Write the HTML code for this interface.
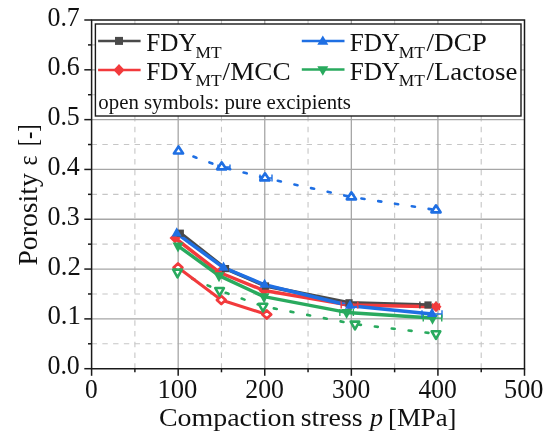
<!DOCTYPE html>
<html><head><meta charset="utf-8"><style>
html,body{margin:0;padding:0;background:#fff;}
svg{display:block;}
svg{will-change:transform;}
</style></head><body>
<svg width="550" height="445" viewBox="0 0 550 445">
<rect x="0" y="0" width="550" height="445" fill="#fff"/>
<line x1="134.89" y1="368.70" x2="134.89" y2="20.00" stroke="#c6c6c6" stroke-width="1.1" stroke-dasharray="5.4 5.35"/>
<line x1="221.47" y1="368.70" x2="221.47" y2="20.00" stroke="#c6c6c6" stroke-width="1.1" stroke-dasharray="5.4 5.35"/>
<line x1="308.05" y1="368.70" x2="308.05" y2="20.00" stroke="#c6c6c6" stroke-width="1.1" stroke-dasharray="5.4 5.35"/>
<line x1="394.63" y1="368.70" x2="394.63" y2="20.00" stroke="#c6c6c6" stroke-width="1.1" stroke-dasharray="5.4 5.35"/>
<line x1="481.21" y1="368.70" x2="481.21" y2="20.00" stroke="#c6c6c6" stroke-width="1.1" stroke-dasharray="5.4 5.35"/>
<line x1="91.60" y1="343.79" x2="524.50" y2="343.79" stroke="#c6c6c6" stroke-width="1.1" stroke-dasharray="5.4 5.35"/>
<line x1="91.60" y1="293.98" x2="524.50" y2="293.98" stroke="#c6c6c6" stroke-width="1.1" stroke-dasharray="5.4 5.35"/>
<line x1="91.60" y1="244.16" x2="524.50" y2="244.16" stroke="#c6c6c6" stroke-width="1.1" stroke-dasharray="5.4 5.35"/>
<line x1="91.60" y1="194.35" x2="524.50" y2="194.35" stroke="#c6c6c6" stroke-width="1.1" stroke-dasharray="5.4 5.35"/>
<line x1="91.60" y1="144.54" x2="524.50" y2="144.54" stroke="#c6c6c6" stroke-width="1.1" stroke-dasharray="5.4 5.35"/>
<line x1="91.60" y1="94.72" x2="524.50" y2="94.72" stroke="#c6c6c6" stroke-width="1.1" stroke-dasharray="5.4 5.35"/>
<line x1="91.60" y1="44.91" x2="524.50" y2="44.91" stroke="#c6c6c6" stroke-width="1.1" stroke-dasharray="5.4 5.35"/>
<line x1="178.18" y1="20.00" x2="178.18" y2="368.70" stroke="#a6a6a6" stroke-width="1.3"/>
<line x1="264.76" y1="20.00" x2="264.76" y2="368.70" stroke="#a6a6a6" stroke-width="1.3"/>
<line x1="351.34" y1="20.00" x2="351.34" y2="368.70" stroke="#a6a6a6" stroke-width="1.3"/>
<line x1="437.92" y1="20.00" x2="437.92" y2="368.70" stroke="#a6a6a6" stroke-width="1.3"/>
<line x1="91.60" y1="318.89" x2="524.50" y2="318.89" stroke="#a6a6a6" stroke-width="1.3"/>
<line x1="91.60" y1="269.07" x2="524.50" y2="269.07" stroke="#a6a6a6" stroke-width="1.3"/>
<line x1="91.60" y1="219.26" x2="524.50" y2="219.26" stroke="#a6a6a6" stroke-width="1.3"/>
<line x1="91.60" y1="169.44" x2="524.50" y2="169.44" stroke="#a6a6a6" stroke-width="1.3"/>
<line x1="91.60" y1="119.63" x2="524.50" y2="119.63" stroke="#a6a6a6" stroke-width="1.3"/>
<line x1="91.60" y1="69.81" x2="524.50" y2="69.81" stroke="#a6a6a6" stroke-width="1.3"/>
<rect x="95.4" y="24" width="425.6" height="92" fill="#fff" stroke="#1a1a1a" stroke-width="1.4"/>
<line x1="178.50" y1="151.10" x2="221.70" y2="167.00" stroke="#1f6fe3" stroke-width="2.6" stroke-dasharray="3.2 13.8" stroke-dashoffset="1.10" stroke-linecap="round"/>
<line x1="221.70" y1="167.00" x2="265.00" y2="178.00" stroke="#1f6fe3" stroke-width="2.6" stroke-dasharray="3.2 13.8" stroke-dashoffset="11.40" stroke-linecap="round"/>
<line x1="265.00" y1="178.00" x2="351.40" y2="197.00" stroke="#1f6fe3" stroke-width="2.6" stroke-dasharray="3.2 13.8" stroke-dashoffset="3.90" stroke-linecap="round"/>
<line x1="351.40" y1="197.00" x2="436.00" y2="210.00" stroke="#1f6fe3" stroke-width="2.6" stroke-dasharray="3.2 13.8" stroke-dashoffset="6.90" stroke-linecap="round"/>
<line x1="177.50" y1="272.20" x2="219.60" y2="290.60" stroke="#29aa5e" stroke-width="2.6" stroke-dasharray="3.0 14.0" stroke-dashoffset="1.20" stroke-linecap="round"/>
<line x1="219.60" y1="290.60" x2="263.00" y2="306.30" stroke="#29aa5e" stroke-width="2.6" stroke-dasharray="3.0 14.0" stroke-dashoffset="10.50" stroke-linecap="round"/>
<line x1="263.00" y1="306.30" x2="355.00" y2="324.20" stroke="#29aa5e" stroke-width="2.6" stroke-dasharray="3.0 14.0" stroke-dashoffset="6.00" stroke-linecap="round"/>
<line x1="355.00" y1="324.20" x2="436.00" y2="333.80" stroke="#29aa5e" stroke-width="2.6" stroke-dasharray="3.0 14.0" stroke-dashoffset="14.00" stroke-linecap="round"/>
<polyline points="178.00,267.50 221.30,300.00 266.80,314.50" fill="none" stroke="#f23a3c" stroke-width="3.0" stroke-linejoin="round"/>
<path d="M260.00,178.00 H272.00 M260.00,174.50 V181.50 M272.00,174.50 V181.50" stroke="#1f6fe3" stroke-width="1.4" fill="none"/>
<path d="M218.00,167.00 H230.00 M218.00,164.50 V169.50 M230.00,164.50 V169.50" stroke="#1f6fe3" stroke-width="1.4" fill="none"/>
<polyline points="180.30,233.20 225.50,268.60 265.50,286.00 349.00,302.80 428.00,305.00" fill="none" stroke="#4a4a4a" stroke-width="3.5" stroke-linejoin="round"/>
<polyline points="175.00,238.00 219.50,272.50 264.00,290.50 349.50,305.00 436.00,306.80" fill="none" stroke="#f23a3c" stroke-width="3.5" stroke-linejoin="round"/>
<polyline points="178.00,245.80 219.00,275.70 264.00,296.60 346.60,312.40 432.50,318.10" fill="none" stroke="#29aa5e" stroke-width="3.5" stroke-linejoin="round"/>
<polyline points="176.70,233.40 223.50,267.70 264.60,284.80 350.00,305.80 432.00,314.00" fill="none" stroke="#1f6fe3" stroke-width="3.5" stroke-linejoin="round"/>
<path d="M419.90,305.00 H436.10 M419.90,301.50 V308.50 M436.10,301.50 V308.50" stroke="#4a4a4a" stroke-width="1.4" fill="none"/>
<path d="M432.60,306.80 H439.40 M432.60,303.30 V310.30 M439.40,303.30 V310.30" stroke="#f23a3c" stroke-width="1.4" fill="none"/>
<path d="M422.00,314.00 H442.00 M422.00,310.25 V317.75 M442.00,310.25 V317.75" stroke="#1f6fe3" stroke-width="1.4" fill="none"/>
<path d="M341.20,305.00 H357.80 M341.20,301.50 V308.50 M357.80,301.50 V308.50" stroke="#f23a3c" stroke-width="1.4" fill="none"/>
<polygon points="178.50,146.43 183.10,153.43 173.90,153.43" fill="#fff" stroke="#1f6fe3" stroke-width="2.6" stroke-linejoin="round"/>
<polygon points="221.70,162.33 226.30,169.33 217.10,169.33" fill="#fff" stroke="#1f6fe3" stroke-width="2.6" stroke-linejoin="round"/>
<polygon points="265.00,173.33 269.60,180.33 260.40,180.33" fill="#fff" stroke="#1f6fe3" stroke-width="2.6" stroke-linejoin="round"/>
<polygon points="351.40,192.33 356.00,199.33 346.80,199.33" fill="#fff" stroke="#1f6fe3" stroke-width="2.6" stroke-linejoin="round"/>
<polygon points="436.00,205.33 440.60,212.33 431.40,212.33" fill="#fff" stroke="#1f6fe3" stroke-width="2.6" stroke-linejoin="round"/>
<polygon points="178.00,263.40 182.40,267.50 178.00,271.60 173.60,267.50" fill="#fff" stroke="#f23a3c" stroke-width="2.7" stroke-linejoin="round"/>
<polygon points="221.30,295.90 225.70,300.00 221.30,304.10 216.90,300.00" fill="#fff" stroke="#f23a3c" stroke-width="2.7" stroke-linejoin="round"/>
<polygon points="266.80,310.40 271.20,314.50 266.80,318.60 262.40,314.50" fill="#fff" stroke="#f23a3c" stroke-width="2.7" stroke-linejoin="round"/>
<polygon points="177.50,277.27 181.80,269.67 173.20,269.67" fill="#fff" stroke="#29aa5e" stroke-width="2.6" stroke-linejoin="round"/>
<polygon points="219.60,295.67 223.90,288.07 215.30,288.07" fill="#fff" stroke="#29aa5e" stroke-width="2.6" stroke-linejoin="round"/>
<polygon points="263.00,311.37 267.30,303.77 258.70,303.77" fill="#fff" stroke="#29aa5e" stroke-width="2.6" stroke-linejoin="round"/>
<polygon points="355.00,329.27 359.30,321.67 350.70,321.67" fill="#fff" stroke="#29aa5e" stroke-width="2.6" stroke-linejoin="round"/>
<polygon points="436.00,338.87 440.30,331.27 431.70,331.27" fill="#fff" stroke="#29aa5e" stroke-width="2.6" stroke-linejoin="round"/>
<polygon points="175.00,232.50 180.50,238.00 175.00,243.50 169.50,238.00" fill="#f23a3c"/>
<polygon points="219.50,267.00 225.00,272.50 219.50,278.00 214.00,272.50" fill="#f23a3c"/>
<polygon points="264.00,285.00 269.50,290.50 264.00,296.00 258.50,290.50" fill="#f23a3c"/>
<polygon points="349.50,299.50 355.00,305.00 349.50,310.50 344.00,305.00" fill="#f23a3c"/>
<polygon points="436.00,301.30 441.50,306.80 436.00,312.30 430.50,306.80" fill="#f23a3c"/>
<rect x="176.70" y="229.60" width="7.20" height="7.20" fill="#4a4a4a"/>
<rect x="221.90" y="265.00" width="7.20" height="7.20" fill="#4a4a4a"/>
<rect x="261.90" y="282.40" width="7.20" height="7.20" fill="#4a4a4a"/>
<rect x="345.40" y="299.20" width="7.20" height="7.20" fill="#4a4a4a"/>
<rect x="424.40" y="301.40" width="7.20" height="7.20" fill="#4a4a4a"/>
<polygon points="178.00,252.47 183.50,242.47 172.50,242.47" fill="#29aa5e"/>
<polygon points="219.00,282.37 224.50,272.37 213.50,272.37" fill="#29aa5e"/>
<polygon points="264.00,303.27 269.50,293.27 258.50,293.27" fill="#29aa5e"/>
<polygon points="346.60,319.07 352.10,309.07 341.10,309.07" fill="#29aa5e"/>
<polygon points="432.50,324.77 438.00,314.77 427.00,314.77" fill="#29aa5e"/>
<path d="M339.85,312.40 H353.35 M339.85,308.90 V315.90 M353.35,308.90 V315.90" stroke="#29aa5e" stroke-width="1.4" fill="none"/>
<path d="M423.25,318.10 H441.75 M423.25,314.60 V321.60 M441.75,314.60 V321.60" stroke="#29aa5e" stroke-width="1.4" fill="none"/>
<polygon points="176.70,227.27 181.80,236.47 171.60,236.47" fill="#1f6fe3"/>
<polygon points="223.50,261.57 228.60,270.77 218.40,270.77" fill="#1f6fe3"/>
<polygon points="264.60,278.67 269.70,287.87 259.50,287.87" fill="#1f6fe3"/>
<polygon points="350.00,299.67 355.10,308.87 344.90,308.87" fill="#1f6fe3"/>
<polygon points="432.00,307.87 437.10,317.07 426.90,317.07" fill="#1f6fe3"/>
<path d="M91.60,20.00 H524.50 V368.70 H91.60 Z" fill="none" stroke="#1a1a1a" stroke-width="1.5"/>
<line x1="84.3" y1="368.70" x2="91.60" y2="368.70" stroke="#1a1a1a" stroke-width="1.5"/>
<line x1="84.3" y1="318.89" x2="91.60" y2="318.89" stroke="#1a1a1a" stroke-width="1.5"/>
<line x1="84.3" y1="269.07" x2="91.60" y2="269.07" stroke="#1a1a1a" stroke-width="1.5"/>
<line x1="84.3" y1="219.26" x2="91.60" y2="219.26" stroke="#1a1a1a" stroke-width="1.5"/>
<line x1="84.3" y1="169.44" x2="91.60" y2="169.44" stroke="#1a1a1a" stroke-width="1.5"/>
<line x1="84.3" y1="119.63" x2="91.60" y2="119.63" stroke="#1a1a1a" stroke-width="1.5"/>
<line x1="84.3" y1="69.81" x2="91.60" y2="69.81" stroke="#1a1a1a" stroke-width="1.5"/>
<line x1="84.3" y1="20.00" x2="91.60" y2="20.00" stroke="#1a1a1a" stroke-width="1.5"/>
<line x1="88" y1="343.79" x2="91.60" y2="343.79" stroke="#1a1a1a" stroke-width="1.5"/>
<line x1="88" y1="293.98" x2="91.60" y2="293.98" stroke="#1a1a1a" stroke-width="1.5"/>
<line x1="88" y1="244.16" x2="91.60" y2="244.16" stroke="#1a1a1a" stroke-width="1.5"/>
<line x1="88" y1="194.35" x2="91.60" y2="194.35" stroke="#1a1a1a" stroke-width="1.5"/>
<line x1="88" y1="144.54" x2="91.60" y2="144.54" stroke="#1a1a1a" stroke-width="1.5"/>
<line x1="88" y1="94.72" x2="91.60" y2="94.72" stroke="#1a1a1a" stroke-width="1.5"/>
<line x1="88" y1="44.91" x2="91.60" y2="44.91" stroke="#1a1a1a" stroke-width="1.5"/>
<line x1="91.60" y1="368.70" x2="91.60" y2="375.8" stroke="#1a1a1a" stroke-width="1.5"/>
<line x1="178.18" y1="368.70" x2="178.18" y2="375.8" stroke="#1a1a1a" stroke-width="1.5"/>
<line x1="264.76" y1="368.70" x2="264.76" y2="375.8" stroke="#1a1a1a" stroke-width="1.5"/>
<line x1="351.34" y1="368.70" x2="351.34" y2="375.8" stroke="#1a1a1a" stroke-width="1.5"/>
<line x1="437.92" y1="368.70" x2="437.92" y2="375.8" stroke="#1a1a1a" stroke-width="1.5"/>
<line x1="524.50" y1="368.70" x2="524.50" y2="375.8" stroke="#1a1a1a" stroke-width="1.5"/>
<line x1="134.89" y1="368.70" x2="134.89" y2="372.3" stroke="#1a1a1a" stroke-width="1.5"/>
<line x1="221.47" y1="368.70" x2="221.47" y2="372.3" stroke="#1a1a1a" stroke-width="1.5"/>
<line x1="308.05" y1="368.70" x2="308.05" y2="372.3" stroke="#1a1a1a" stroke-width="1.5"/>
<line x1="394.63" y1="368.70" x2="394.63" y2="372.3" stroke="#1a1a1a" stroke-width="1.5"/>
<line x1="481.21" y1="368.70" x2="481.21" y2="372.3" stroke="#1a1a1a" stroke-width="1.5"/>
<text x="47.44" y="374.30" font-family="Liberation Serif, serif" font-size="27" fill="#111" textLength="32.38" lengthAdjust="spacingAndGlyphs">0.0</text>
<text x="47.41" y="324.49" font-family="Liberation Serif, serif" font-size="27" fill="#111" textLength="33.42" lengthAdjust="spacingAndGlyphs">0.1</text>
<text x="47.41" y="274.67" font-family="Liberation Serif, serif" font-size="27" fill="#111" textLength="33.42" lengthAdjust="spacingAndGlyphs">0.2</text>
<text x="47.44" y="224.86" font-family="Liberation Serif, serif" font-size="27" fill="#111" textLength="32.38" lengthAdjust="spacingAndGlyphs">0.3</text>
<text x="47.44" y="175.04" font-family="Liberation Serif, serif" font-size="27" fill="#111" textLength="32.38" lengthAdjust="spacingAndGlyphs">0.4</text>
<text x="47.44" y="125.23" font-family="Liberation Serif, serif" font-size="27" fill="#111" textLength="32.38" lengthAdjust="spacingAndGlyphs">0.5</text>
<text x="47.44" y="75.41" font-family="Liberation Serif, serif" font-size="27" fill="#111" textLength="32.38" lengthAdjust="spacingAndGlyphs">0.6</text>
<text x="47.44" y="25.60" font-family="Liberation Serif, serif" font-size="27" fill="#111" textLength="32.38" lengthAdjust="spacingAndGlyphs">0.7</text>
<text x="84.96" y="398.20" font-family="Liberation Serif, serif" font-size="27" fill="#111" textLength="12.71" lengthAdjust="spacingAndGlyphs">0</text>
<text x="157.44" y="398.20" font-family="Liberation Serif, serif" font-size="27" fill="#111" textLength="39.95" lengthAdjust="spacingAndGlyphs">100</text>
<text x="245.24" y="398.20" font-family="Liberation Serif, serif" font-size="27" fill="#111" textLength="38.73" lengthAdjust="spacingAndGlyphs">200</text>
<text x="331.89" y="398.20" font-family="Liberation Serif, serif" font-size="27" fill="#111" textLength="38.42" lengthAdjust="spacingAndGlyphs">300</text>
<text x="418.47" y="398.20" font-family="Liberation Serif, serif" font-size="27" fill="#111" textLength="38.42" lengthAdjust="spacingAndGlyphs">400</text>
<text x="504.05" y="398.20" font-family="Liberation Serif, serif" font-size="27" fill="#111" textLength="39.43" lengthAdjust="spacingAndGlyphs">500</text>
<text x="158.93" y="425.80" font-family="Liberation Serif, serif" font-size="26" fill="#111" textLength="136.45" lengthAdjust="spacingAndGlyphs">Compaction</text>
<text x="300.73" y="425.80" font-family="Liberation Serif, serif" font-size="26" fill="#111" textLength="61.91" lengthAdjust="spacingAndGlyphs">stress</text>
<text x="370.00" y="425.80" font-family="Liberation Serif, serif" font-size="26" font-style="italic" fill="#111" textLength="13.00" lengthAdjust="spacingAndGlyphs">p</text>
<text x="388.14" y="425.80" font-family="Liberation Serif, serif" font-size="26" fill="#111" textLength="68.34" lengthAdjust="spacingAndGlyphs">[MPa]</text>
<text transform="translate(36.70,264.50) rotate(-90)" x="-1.02" y="0" font-family="Liberation Serif, serif" font-size="27" fill="#111" textLength="92.26" lengthAdjust="spacingAndGlyphs">Porosity</text>
<text transform="translate(36.70,164.50) rotate(-90)" x="-0.88" y="0" font-family="Liberation Serif, serif" font-size="27" fill="#111" textLength="9.98" lengthAdjust="spacingAndGlyphs">ε</text>
<text transform="translate(36.70,144.70) rotate(-90)" x="-1.63" y="0" font-family="Liberation Serif, serif" font-size="27" fill="#111" textLength="21.94" lengthAdjust="spacingAndGlyphs">[-]</text>
<line x1="98.1" y1="40.9" x2="140.6" y2="40.9" stroke="#4a4a4a" stroke-width="2.5"/>
<rect x="115.00" y="36.90" width="8.00" height="8.00" fill="#4a4a4a"/>
<line x1="98.1" y1="69.9" x2="140.6" y2="69.9" stroke="#f23a3c" stroke-width="2.5"/>
<polygon points="119.00,64.00 124.50,70.00 119.00,76.00 113.50,70.00" fill="#f23a3c"/>
<line x1="301.8" y1="41" x2="344.5" y2="41" stroke="#1f6fe3" stroke-width="2.5"/>
<polygon points="322.80,35.40 328.30,44.70 317.30,44.70" fill="#1f6fe3"/>
<line x1="301.8" y1="69.5" x2="344.5" y2="69.5" stroke="#29aa5e" stroke-width="2.5"/>
<polygon points="322.80,75.80 328.30,66.20 317.30,66.20" fill="#29aa5e"/>
<text x="146.29" y="50.80" font-family="Liberation Serif, serif" font-size="25" fill="#111" textLength="50.33" lengthAdjust="spacingAndGlyphs">FDY</text>
<text x="195.45" y="57.50" font-family="Liberation Serif, serif" font-size="16.5" fill="#111" textLength="26.09" lengthAdjust="spacingAndGlyphs">MT</text>
<text x="146.29" y="79.60" font-family="Liberation Serif, serif" font-size="25" fill="#111" textLength="50.33" lengthAdjust="spacingAndGlyphs">FDY</text>
<text x="195.45" y="86.30" font-family="Liberation Serif, serif" font-size="16.5" fill="#111" textLength="26.09" lengthAdjust="spacingAndGlyphs">MT</text>
<text x="222.60" y="79.60" font-family="Liberation Serif, serif" font-size="25" fill="#111" textLength="68.07" lengthAdjust="spacingAndGlyphs">/MCC</text>
<text x="349.69" y="50.80" font-family="Liberation Serif, serif" font-size="25" fill="#111" textLength="50.33" lengthAdjust="spacingAndGlyphs">FDY</text>
<text x="398.85" y="57.50" font-family="Liberation Serif, serif" font-size="16.5" fill="#111" textLength="26.09" lengthAdjust="spacingAndGlyphs">MT</text>
<text x="426.50" y="50.80" font-family="Liberation Serif, serif" font-size="25" fill="#111" textLength="60.45" lengthAdjust="spacingAndGlyphs">/DCP</text>
<text x="349.69" y="79.60" font-family="Liberation Serif, serif" font-size="25" fill="#111" textLength="50.33" lengthAdjust="spacingAndGlyphs">FDY</text>
<text x="398.85" y="86.30" font-family="Liberation Serif, serif" font-size="16.5" fill="#111" textLength="26.09" lengthAdjust="spacingAndGlyphs">MT</text>
<text x="426.50" y="79.60" font-family="Liberation Serif, serif" font-size="25" fill="#111" textLength="90.84" lengthAdjust="spacingAndGlyphs">/Lactose</text>
<text x="98.36" y="108.70" font-family="Liberation Serif, serif" font-size="20" fill="#111" textLength="252.60" lengthAdjust="spacingAndGlyphs">open symbols: pure excipients</text>
</svg>
</body></html>
